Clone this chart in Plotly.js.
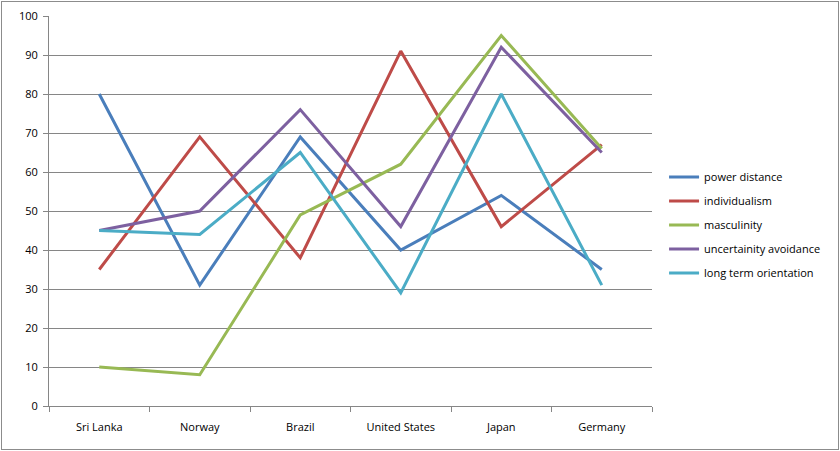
<!DOCTYPE html>
<html><head><meta charset="utf-8">
<script src="https://cdn.plot.ly/plotly-3.0.1.min.js"></script>
<style>
html,body{margin:0;padding:0;background:#fff;}
#wrap{position:relative;width:840px;height:451px;}
#chart{width:840px;height:451px;}
#frame{position:absolute;left:1px;top:1px;width:836px;height:447px;border:1px solid #8c8c8c;pointer-events:none;}
</style></head>
<body>
<div id="wrap"><div id="chart"></div><div id="frame"></div></div>
<script>
const countries = ["Sri Lanka","Norway","Brazil","United States","Japan","Germany"];
const seriesNames = ["power distance","individualism","masculinity","uncertainity avoidance","long term orientation"];
const powerDistance = [80,31,69,40,54,35];
const individualism = [35,69,38,91,46,67];
const masculinity = [10,8,49,62,95,66];
const uncertaintyAvoidance = [45,50,76,46,92,65];
const longTermOrientation = [45,44,65,29,80,31];
const colors = ["#4A7EBB","#BE4B48","#98B954","#7D60A0","#4BACC6"];
const allSeries = [powerDistance,individualism,masculinity,uncertaintyAvoidance,longTermOrientation];

const traces = allSeries.map((vals,i)=>({
  x: countries, y: vals, type:'scatter', mode:'lines', name: seriesNames[i],
  legendgroup: 'g'+i,
  line:{color:colors[i], width:3}
}));

const layout = {
  width:840, height:451,
  margin:{l:48.5,r:188,t:15.5,b:44.5,autoexpand:false},
  paper_bgcolor:'#fff', plot_bgcolor:'#fff',
  font:{family:'"Open Sans", "Liberation Sans", sans-serif', size:11, color:'#000'},
  xaxis:{
    type:'category', range:[-0.5,5.5], showgrid:false, zeroline:false,
    showline:true, linecolor:'#868686', linewidth:1,
    ticks:'outside', ticklen:5, tickcolor:'#868686', tickson:'boundaries',
    tickfont:{size:11}, ticklabelstandoff:11, fixedrange:true
  },
  yaxis:{
    range:[0,100], dtick:10, showgrid:true, gridcolor:'#868686', gridwidth:1,
    zeroline:false, showline:true, linecolor:'#868686', linewidth:1,
    ticks:'outside', ticklen:5, tickcolor:'#868686', tickfont:{size:11},
    ticklabelstandoff:3, fixedrange:true
  },
  showlegend:true,
  legend:{x:1.020, xanchor:'left', y:0.464, yanchor:'middle', font:{size:11},
    tracegroupgap:5, itemwidth:30, bgcolor:'rgba(0,0,0,0)'}
};
Plotly.newPlot('chart', traces, layout, {displayModeBar:false, staticPlot:true});
</script>
</body></html>
